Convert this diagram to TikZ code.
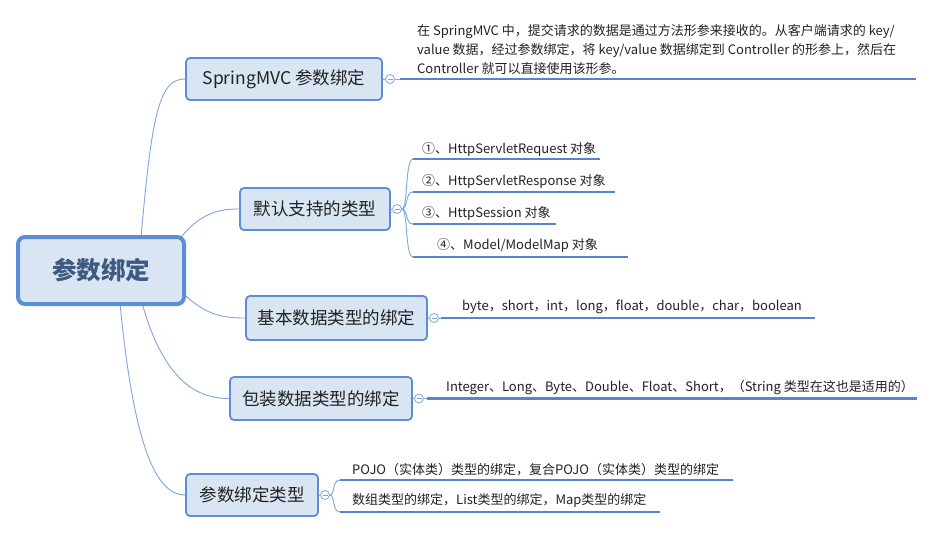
\documentclass[tikz,border=0pt]{standalone}
\usepackage{fontspec}
\setmainfont{Noto Sans CJK SC}
\usetikzlibrary{calc}
\definecolor{bord}{HTML}{5B8ED6}
\definecolor{boxfill}{HTML}{DAE5F4}
\definecolor{conn}{HTML}{7EA6E0}
\definecolor{uline}{HTML}{5585CF}
\definecolor{txt}{HTML}{222222}
\definecolor{roottxt}{HTML}{3E5A80}
\tikzset{
  topic/.style={draw=bord, line width=1.8pt, fill=boxfill, rounded corners=4pt, inner sep=0pt,
    text=txt, font=\fontsize{17.5}{19}\selectfont},
  rootbox/.style={draw=bord, line width=4pt, fill=boxfill, rounded corners=7pt, inner sep=0pt,
    text=roottxt, font=\fontsize{24.5}{26}\selectfont\bfseries},
  fold/.style={circle, draw=conn, line width=0.8pt, fill=white, minimum size=9pt, inner sep=0pt,
    path picture={\draw[conn, line width=0.7pt] ($(path picture bounding box.west)+(2pt,0)$) -- ($(path picture bounding box.east)+(-2pt,0)$);}},
  leaf/.style={anchor=south west, inner sep=0pt, text=txt, font=\fontsize{13}{19}\selectfont},
  branch/.style={conn, line width=0.9pt},
  under/.style={uline, line width=2.6pt},
}
\begin{document}
\begin{tikzpicture}[x=1pt,y=-1pt]
\useasboundingbox (0,0) rectangle (948,533);
\fill[white] (0,0) rectangle (948,533);

% topic boxes
\node[topic, minimum width=196pt, minimum height=42pt] (n1) at (284,79) {SpringMVC 参数绑定};
\node[topic, minimum width=150pt, minimum height=42pt] (n2) at (315,209) {默认支持的类型};
\node[topic, minimum width=181pt, minimum height=44pt] (n3) at (336.5,318) {基本数据类型的绑定};
\node[topic, minimum width=182pt, minimum height=43pt] (n4) at (321,398.5) {包装数据类型的绑定};
\node[topic, minimum width=132pt, minimum height=42pt] (n5) at (252,495) {参数绑定类型};

% root connectors
\coordinate (r1) at (141,238);
\coordinate (r2) at (178,241);
\coordinate (r3) at (182,292);
\coordinate (r4) at (142,303);
\coordinate (r5) at (120,303);
\draw[branch] (r1) .. controls (152,110) and (160,79) .. (n1.west);
\draw[branch] (r2) .. controls (200,212) and (220,209) .. (n2.west);
\draw[branch] (r3) .. controls (205,316) and (225,318) .. (n3.west);
\draw[branch] (r4) .. controls (165,385) and (200,398.5) .. (n4.west);
\draw[branch] (r5) .. controls (135,460) and (160,495) .. (n5.west);

% root
\node[rootbox, minimum width=166pt, minimum height=67pt] (root) at (101,270.5) {参数绑定};

% fold circles
\node[fold] (f1) at (390,79) {};
\node[fold] (f2) at (397,209) {};
\node[fold] (f3) at (434,318) {};
\node[fold] (f4) at (419,398.5) {};
\node[fold] (f5) at (325,495) {};
\draw[branch] (n1.east) -- (f1.west);
\draw[branch] (n2.east) -- (f2.west);
\draw[branch] (n3.east) -- (f3.west);
\draw[branch] (n4.east) -- (f4.west);
\draw[branch] (n5.east) -- (f5.west);

% N1 description
\coordinate (a1) at (400,79);
\coordinate (b1) at (916,79);
\draw[branch] (f1.east) -- (a1);
\draw[under] (a1) -- (b1);
\node[anchor=south west, inner sep=0pt, text=txt, font=\fontsize{13}{19}\selectfont, align=left] (t1) at (417,75)
 {在 SpringMVC 中，提交请求的数据是通过方法形参来接收的。从客户端请求的 key/\\
  value 数据，经过参数绑定，将 key/value 数据绑定到 Controller 的形参上，然后在\\
  Controller 就可以直接使用该形参。};

% N2 leaves
\coordinate (a21) at (413,159); \coordinate (b21) at (600,159);
\coordinate (a22) at (413,192); \coordinate (b22) at (615,192);
\coordinate (a23) at (413,224); \coordinate (b23) at (556,224);
\coordinate (a24) at (413,257); \coordinate (b24) at (628,257);
\draw[branch] (f2.east) .. controls (408,209) and (405,159) .. (a21);
\draw[branch] (f2.east) .. controls (408,209) and (405,192) .. (a22);
\draw[branch] (f2.east) .. controls (408,209) and (405,224) .. (a23);
\draw[branch] (f2.east) .. controls (408,209) and (405,257) .. (a24);
\draw[under] (a21) -- (b21);
\draw[under] (a22) -- (b22);
\draw[under] (a23) -- (b23);
\draw[under] (a24) -- (b24);
\node[leaf] (t21) at (422,157) {①、HttpServletRequest 对象};
\node[leaf] (t22) at (422,189) {②、HttpServletResponse 对象};
\node[leaf] (t23) at (422,221) {③、HttpSession 对象};
\node[leaf] (t24) at (437,253) {④、Model/ModelMap 对象};

% N3 leaf
\coordinate (a3) at (441,318); \coordinate (b3) at (815,318);
\draw[branch] (f3.east) -- (a3);
\draw[under] (a3) -- (b3);
\node[leaf] (t3) at (462,314) {byte，short，int，long，float，double，char，boolean};

% N4 leaf
\coordinate (a4) at (427,398.5); \coordinate (b4) at (917,398.5);
\draw[branch] (f4.east) -- (a4);
\draw[under] (a4) -- (b4);
\node[leaf] (t4) at (446,395) {Integer、Long、Byte、Double、Float、Short，（String 类型在这也是适用的）};

% N5 leaves
\coordinate (a51) at (340,480); \coordinate (b51) at (733,480);
\coordinate (a52) at (340,512); \coordinate (b52) at (660,512);
\draw[branch] (f5.east) .. controls (335,495) and (332,480) .. (a51);
\draw[branch] (f5.east) .. controls (335,495) and (332,512) .. (a52);
\draw[under] (a51) -- (b51);
\draw[under] (a52) -- (b52);
\node[leaf] (t51) at (352,476) {POJO（实体类）类型的绑定，复合POJO（实体类）类型的绑定};
\node[leaf] (t52) at (352,508) {数组类型的绑定，List类型的绑定，Map类型的绑定};
\end{tikzpicture}
\end{document}
